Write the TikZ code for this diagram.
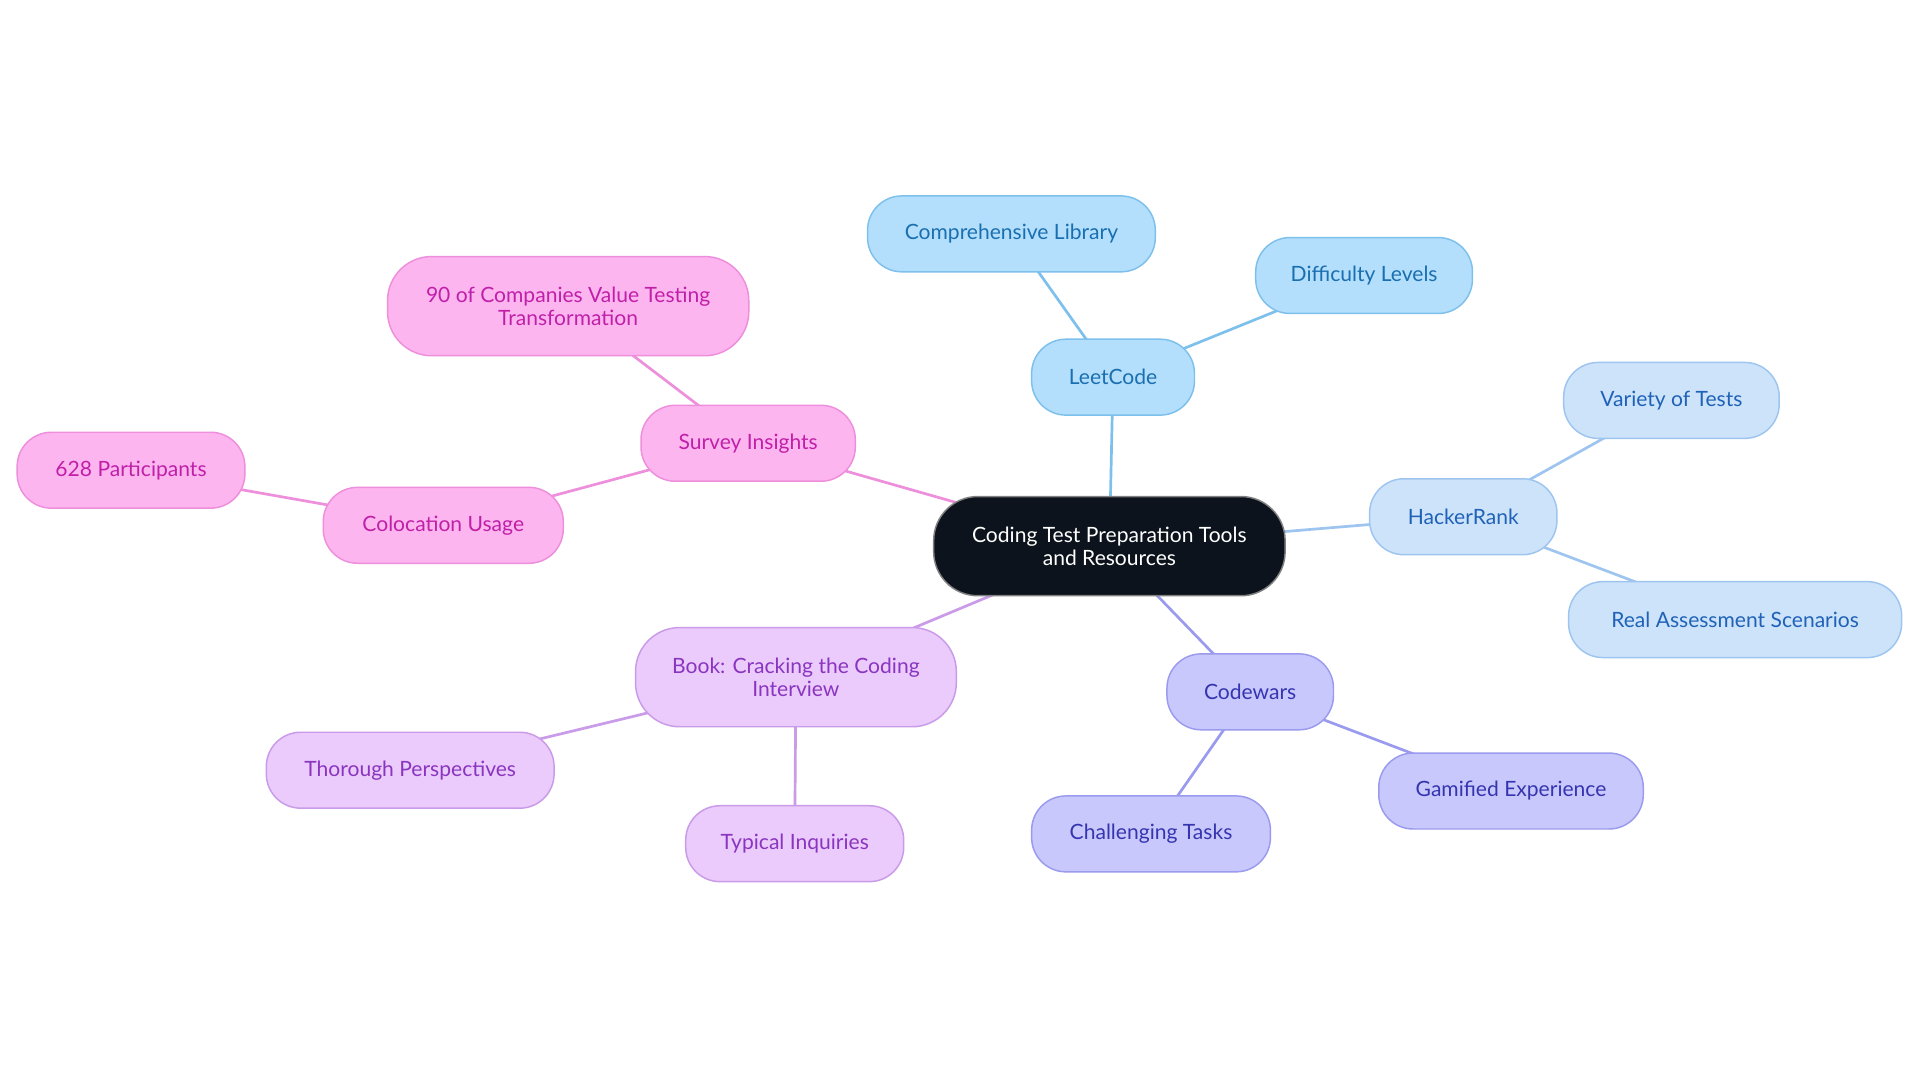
\documentclass[tikz,border=0pt]{standalone}
\usepackage{fontspec}
\setmainfont{Lato}
\usetikzlibrary{backgrounds}
\begin{document}
\begin{tikzpicture}[x=0.5pt,y=-0.5pt,
  bx/.style={draw,line width=0.6pt,rounded corners=14pt,inner sep=0pt,align=center,font=\fontsize{8.6}{9.4}\selectfont,minimum height=31pt},
  lc/.style={bx,fill=lcF,draw=lcD,text=lcT},
  hr/.style={bx,fill=hrF,draw=hrD,text=hrT},
  cw/.style={bx,fill=cwF,draw=cwD,text=cwT},
  bk/.style={bx,fill=bkF,draw=bkD,text=bkT},
  sv/.style={bx,fill=svF,draw=svD,text=svT},
  ln/.style={line width=1.1pt}]
\definecolor{lcF}{HTML}{B3DFFC}\definecolor{lcD}{HTML}{7EC0EC}\definecolor{lcT}{HTML}{1A6FB0}
\definecolor{hrF}{HTML}{CDE3FA}\definecolor{hrD}{HTML}{9EC5EF}\definecolor{hrT}{HTML}{1F62B8}
\definecolor{cwF}{HTML}{C8C8FC}\definecolor{cwD}{HTML}{9A9AEE}\definecolor{cwT}{HTML}{3535B0}
\definecolor{bkF}{HTML}{EBCAFC}\definecolor{bkD}{HTML}{C99BE8}\definecolor{bkT}{HTML}{8A35C0}
\definecolor{svF}{HTML}{FDB5F0}\definecolor{svD}{HTML}{EE8FDC}\definecolor{svT}{HTML}{C020A8}
\definecolor{cF}{HTML}{0C131C}
\useasboundingbox (0,0) rectangle (1568,884);
\node[bx,fill=cF,draw=gray,text=white,minimum width=143.5pt,minimum height=40.5pt,rounded corners=18pt] (c) at (906,446) {Coding Test Preparation Tools\\and Resources};
\node[lc,minimum width=66.5pt] (lc) at (909,308) {LeetCode};
\node[lc,minimum width=117.5pt] (lc1) at (826,191) {Comprehensive Library};
\node[lc,minimum width=88.5pt] (lc2) at (1114,225) {Difficulty Levels};
\node[hr,minimum width=76.5pt] (hr) at (1195,422) {HackerRank};
\node[hr,minimum width=88pt] (hr1) at (1365,327) {Variety of Tests};
\node[hr,minimum width=136pt] (hr2) at (1417,506) {Real Assessment Scenarios};
\node[cw,minimum width=68pt] (cw) at (1021,565) {Codewars};
\node[cw,minimum width=108pt] (cw1) at (1234,646) {Gamified Experience};
\node[cw,minimum width=97.5pt] (cw2) at (940,681) {Challenging Tasks};
\node[bk,minimum width=131pt,minimum height=40.5pt,rounded corners=18pt] (bk) at (650,553) {Book: Cracking the Coding\\Interview};
\node[bk,minimum width=117.5pt] (bk1) at (335,629) {Thorough Perspectives};
\node[bk,minimum width=89pt] (bk2) at (649,689) {Typical Inquiries};
\node[sv,minimum width=87.5pt] (sv) at (611,362) {Survey Insights};
\node[sv,minimum width=147.5pt,minimum height=40.5pt,rounded corners=18pt] (sv1) at (464,250) {90 of Companies Value Testing\\Transformation};
\node[sv,minimum width=98pt] (sv2) at (362,429) {Colocation Usage};
\node[sv,minimum width=93pt] (sv3) at (107,384) {628 Participants};
\begin{scope}[on background layer]
\fill[white] (0,0) rectangle (1568,884);
\draw[ln,lcD] (c.center) -- (lc.center) (lc.center) -- (lc1.center) (lc.center) -- (lc2.center);
\draw[ln,hrD] (c.center) -- (hr.center) (hr.center) -- (hr1.center) (hr.center) -- (hr2.center);
\draw[ln,cwD] (c.center) -- (cw.center) (cw.center) -- (cw1.center) (cw.center) -- (cw2.center);
\draw[ln,bkD] (c.center) -- (bk.center) (bk.center) -- (bk1.center) (bk.center) -- (bk2.center);
\draw[ln,svD] (c.center) -- (sv.center) (sv.center) -- (sv1.center) (sv.center) -- (sv2.center) (sv2.center) -- (sv3.center);
\end{scope}
\end{tikzpicture}
\end{document}
